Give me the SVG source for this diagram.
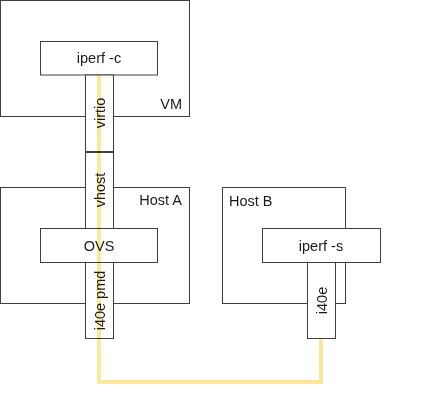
<svg xmlns="http://www.w3.org/2000/svg" width="429" height="402" viewBox="0 0 429 402">
<style>
.box{fill:#fff;stroke:#404040;stroke-width:1}
.t{font-family:"Liberation Sans",Arial,sans-serif;font-size:14.5px;fill:#1a1a1a}
.m{text-anchor:middle}
.e{text-anchor:end}
.link{fill:none;stroke:#FFE699;stroke-width:4;mix-blend-mode:multiply}
</style>
<rect width="429" height="402" fill="#fff"/>
<g id="vm"><rect class="box" x="0.5" y="0.5" width="189" height="116"/><text class="t e" x="182" y="109">VM</text></g>
<g id="host-a"><rect class="box" x="0.5" y="187.5" width="189" height="116"/><text class="t e" x="182" y="205">Host A</text></g>
<g id="host-b"><rect class="box" x="222.5" y="187.5" width="123" height="116"/><text class="t" x="229" y="206">Host B</text></g>
<g id="iperf-c"><rect class="box" x="40.5" y="41.5" width="117" height="33.5"/><text class="t m" x="99" y="63">iperf -c</text></g>
<g id="virtio"><rect class="box" x="85.5" y="75" width="28" height="76.5"/><text class="t m" transform="translate(99.5,113) rotate(-90)" x="0" y="5.5">virtio</text></g>
<g id="vhost"><rect class="box" x="85.5" y="152.5" width="28" height="76"/><text class="t m" transform="translate(99.5,190) rotate(-90)" x="0" y="5.5">vhost</text></g>
<g id="ovs"><rect class="box" x="40.5" y="228.5" width="117" height="34"/><text class="t m" x="99" y="250.5">OVS</text></g>
<g id="i40e-pmd"><rect class="box" x="85.5" y="262.5" width="28" height="76"/><text class="t m" transform="translate(99.5,300.5) rotate(-90)" x="0" y="5.5">i40e pmd</text></g>
<g id="iperf-s"><rect class="box" x="262.5" y="228.5" width="118" height="34"/><text class="t m" x="321" y="251">iperf -s</text></g>
<g id="i40e"><rect class="box" x="307.5" y="262.5" width="28" height="76"/><text class="t m" transform="translate(321.5,300.5) rotate(-90)" x="0" y="5.5">i40e</text></g>
<g id="connectors"><path class="link" d="M99,75 V382 H321 V338.5"/></g>
</svg>
